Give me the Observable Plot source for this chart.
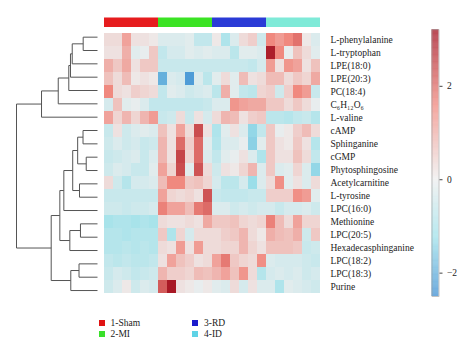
<!DOCTYPE html>
<html><head><meta charset="utf-8">
<script src="https://cdn.jsdelivr.net/npm/d3@7"></script>
<script src="https://cdn.jsdelivr.net/npm/@observablehq/plot@0.6"></script>
<style>
html,body{margin:0;padding:0;background:#fff;}
#chart{position:relative;width:474px;height:357px;font-family:"Liberation Serif","Times New Roman",serif;}
#chart svg{position:absolute;left:0;top:0;overflow:visible;}
.lg{position:absolute;font-size:9.5px;line-height:10px;color:#222;white-space:nowrap;}
.sw{position:absolute;width:6px;height:6px;}
</style></head><body><div id="chart"></div>
<script>
const rows = ["L-phenylalanine","L-tryptophan","LPE(18:0)","LPE(20:3)","PC(18:4)","C\u2086H\u2081\u2082O\u2086","L-valine","cAMP","Sphinganine","cGMP","Phytosphingosine","Acetylcarnitine","L-tyrosine","LPC(16:0)","Methionine","LPC(20:5)","Hexadecasphinganine","LPC(18:2)","LPC(18:3)","Purine"];
const groups = ["1-Sham","2-MI","3-RD","4-ID"];
const groupBarColors = ["#e61c1e","#3be324","#2a3bd6","#7fead8"];
const legendColors = ["#e01313","#3ae02a","#1b1bcc","#5fd3e6"];
const samplesPerGroup = 6;
const values = [
 [0.3,0.3,1.2,0.2,0.2,0.1, -0.3,-0.3,-0.3,-0.2,-0.7,-0.7, 0.1,-1.0,-0.3,0.3,0.5,-0.5, 1.6,1.3,1.6,1.9,0.1,-0.3],
 [0.2,0.2,1.0,-0.2,-0.1,0.6, -0.7,-0.4,-0.4,-0.2,-0.3,-0.2, -0.3,-0.3,-0.8,-0.2,-0.2,-0.3, 3.0,1.6,-0.1,0.7,0.3,-0.2],
 [1.0,0.6,1.1,0.2,0.6,0.6, -0.6,-0.6,-0.6,-0.6,-0.6,-0.6, -0.6,-0.6,-0.6,-0.6,-0.7,-0.4, 1.3,0.2,1.4,1.2,0.2,0.7],
 [0.7,0.3,0.8,0.1,0.2,0.1, -2.0,-0.3,-0.4,-2.3,-0.3,-0.8, -0.2,0.3,-0.2,0.8,0.2,0.3, 0.8,0.8,0.3,0.6,0.4,1.1],
 [1.6,0.3,0.2,0.5,0.4,0.3, -0.7,-0.2,-0.3,-0.5,-0.4,-0.3, -0.8,1.0,-0.2,-0.7,-0.8,0.4, 0.5,-0.5,0.5,1.6,1.3,-0.6],
 [-0.4,0.7,-0.2,-0.1,-0.3,-0.7, -0.7,-0.7,-0.7,-0.7,-0.7,-0.6, -0.3,-0.3,1.4,1.2,1.1,1.1, 0.6,0.6,0.3,0.6,0.3,-0.1],
 [1.2,0.4,0.9,0.4,0.9,1.3, -0.6,-0.5,0.3,-0.6,0.2,-0.4, 0.3,0.9,0.8,0.2,0.5,0.6, -0.8,-0.8,-0.9,-0.7,-0.6,-0.9],
 [-0.6,0.2,-0.5,-0.3,-0.2,-0.3, 0.7,0.2,1.2,0.3,2.4,0.2, -1.0,-0.2,0.2,-0.3,-1.4,-0.7, 0.6,-0.1,0.1,0.5,0.8,0.3],
 [-0.5,-0.3,-0.5,-0.4,-0.6,-0.5, 0.9,0.2,2.0,0.5,2.0,-0.2, -0.9,-0.3,-0.3,-0.1,-1.5,-0.2, 0.6,0.2,0.1,0.6,0.2,-0.9],
 [-0.6,-0.5,-0.4,-0.3,-0.6,-0.3, 0.9,0.2,2.5,0.4,2.0,-0.3, -0.7,-0.2,-0.1,0.2,-0.3,-1.0, 0.6,0.2,0.2,0.7,0.3,-0.7],
 [-0.5,-0.3,-0.4,-0.6,-0.6,-0.2, 1.2,0.4,2.4,-0.2,2.3,0.3, -0.5,0.2,0.1,0.4,0.9,-0.3, 0.6,-0.3,-0.2,0.4,-0.3,-1.4],
 [0.3,-0.5,-0.9,-0.4,-0.4,-0.3, 0.8,1.6,1.6,0.6,0.7,0.4, -0.4,-0.8,-0.8,-0.4,-1.3,-0.3, 0.3,1.5,-0.2,0.2,-0.3,0.3],
 [-0.6,-0.6,-0.6,-0.6,-0.6,-0.6, 1.2,0.4,0.3,0.4,0.2,2.3, -0.6,-0.7,-0.7,-0.7,-0.6,-0.6, 0.5,0.5,0.5,1.5,1.3,-0.2],
 [-0.5,-0.5,-0.6,-0.5,-0.5,-0.4, 1.7,1.2,1.2,0.8,1.8,2.0, -0.3,-0.3,-0.5,-0.4,-0.5,-0.4, -0.4,-0.6,-0.4,-0.4,-0.3,-0.5],
 [-1.1,-1.0,-1.0,-1.1,-1.0,-1.1, 0.3,0.2,0.2,0.3,0.2,1.1, 0.6,0.6,0.7,0.4,0.3,0.4, 1.7,0.8,0.3,1.2,0.4,0.4],
 [-0.9,-0.9,-1.0,-0.9,-0.9,-0.9, 0.6,-1.0,0.4,-0.4,0.3,0.3, 0.3,0.5,0.6,0.9,0.3,0.1, 1.0,0.8,0.7,1.0,-0.5,0.6],
 [-0.9,-0.9,-0.8,-0.9,-0.8,-0.9, 0.3,0.2,1.3,0.2,1.3,0.3, 0.3,0.4,0.4,0.9,0.4,0.2, 0.7,0.7,0.7,0.6,-0.6,-0.5],
 [-0.7,-0.8,-0.7,-0.8,-0.8,-0.7, 0.2,1.2,0.7,0.5,0.2,0.3, 1.2,1.8,0.6,0.4,0.3,1.5, -0.3,-0.4,-0.4,-0.4,-0.5,-0.6],
 [-0.6,-0.4,-0.5,-0.7,-0.6,-0.5, 0.9,0.5,0.5,0.4,0.8,0.7, 0.9,1.2,0.7,1.4,0.3,-0.9, -0.4,-0.3,-0.4,-0.3,-0.5,-0.4],
 [-0.5,-0.3,0.1,-0.5,-0.3,-0.4, 2.2,3.1,0.2,0.1,-0.1,0.1, -0.2,-0.3,0.3,-0.4,0.2,-0.3, -0.3,-1.0,-0.2,-0.3,-0.4,-0.5]
];
// hclust-style merges: negative = leaf (row index, 1-based), positive = earlier merge step
const mergeLeft   = [-1, 1, 2, 3, 4, 5, -8, -10, 7, -12, 9, 11, -15, 13, 12, -18, 16, 15, 6];
const mergeRight  = [-2, -3, -4, -5, -6, -7, -9, -11, 8, -13, 10, -14, -16, -17, 14, -19, -20, 17, 18];
const mergeHeight = [1.79, 3.16, 3.38, 3.59, 4.91, 7.0, 1.81, 1.41, 2.48, 2.25, 3.1, 4.21, 2.13, 3.46, 4.71, 2.31, 3.34, 5.79, 10.13];
const colorTicks = [-2, 0, 2];
const colorDomain = [-2.5, -1.25, 0, 1.6, 3.2];
const colorRange = ["#3e8fd3", "#9fe1ea", "#eeeeee", "#f0897f", "#a3101f"];

const font = '"Liberation Serif","Times New Roman",serif';
const W = 474, H = 357;
const heatL = 98.5, heatR = 325, heatT = 30, heatB = 296.7;
const cols = d3.range(1, groups.length * samplesPerGroup + 1);
const cells = [];
values.forEach((r, i) => r.forEach((v, j) => cells.push({row: rows[i], col: j + 1, value: v})));
const colData = cols.map(c => ({col: c, group: groups[Math.floor((c - 1) / samplesPerGroup)]}));
const colorOpts = {type: "linear", domain: colorDomain, range: colorRange, clamp: true};
const style = {fontFamily: font, fontSize: "9.5px", background: "transparent", color: "#222", overflow: "visible"};
const chart = document.getElementById("chart");

// heatmap
chart.append(Plot.plot({
  width: W, height: H, marginLeft: heatL, marginRight: W - heatR, marginTop: heatT, marginBottom: H - heatB,
  style,
  x: {type: "band", domain: cols, padding: 0, axis: null},
  y: {type: "band", domain: rows, padding: 0},
  color: colorOpts,
  marks: [
    Plot.cell(cells, {x: "col", y: "row", fill: "value"}),
    Plot.axisY({anchor: "right", tickSize: 0, tickPadding: 5, fill: "#222", label: null})
  ]
}));

// group annotation bar
chart.append(Plot.plot({
  width: W, height: H, marginLeft: heatL, marginRight: W - heatR, marginTop: 17.5, marginBottom: H - 27,
  style,
  x: {type: "band", domain: cols, padding: 0, axis: null},
  color: {type: "ordinal", domain: groups, range: groupBarColors},
  marks: [Plot.cell(colData, {x: "col", fill: "group"})]
}));

// dendrogram
const nodeY = [];
const links = [];
function pos(id) { return id < 0 ? {y: -id, h: 0} : {y: nodeY[id - 1], h: mergeHeight[id - 1]}; }
mergeLeft.forEach((l, i) => {
  const a = pos(l), b = pos(mergeRight[i]), h = mergeHeight[i];
  nodeY[i] = (a.y + b.y) / 2;
  links.push({x1: h, y1: a.y, x2: h, y2: b.y});
  links.push({x1: a.h, y1: a.y, x2: h, y2: a.y});
  links.push({x1: b.h, y1: b.y, x2: h, y2: b.y});
});
chart.append(Plot.plot({
  width: W, height: H, marginLeft: 16, marginRight: W - 97, marginTop: heatT, marginBottom: H - heatB,
  style,
  x: {type: "linear", domain: [d3.max(mergeHeight), 0], axis: null},
  y: {type: "linear", domain: [0.5, rows.length + 0.5], reverse: true, axis: null},
  marks: [Plot.link(links, {x1: "x1", y1: "y1", x2: "x2", y2: "y2", stroke: "#555", strokeWidth: 1})]
}));

// colour bar
const ramp = d3.range(colorDomain[0], 3.21, 0.01);
chart.append(Plot.plot({
  width: W, height: H, marginLeft: 431.5, marginRight: W - 438.5, marginTop: 29.3, marginBottom: H - 296,
  style,
  y: {type: "linear", domain: [colorDomain[0], 3.21], axis: null},
  color: colorOpts,
  marks: [
    Plot.rect(ramp, {y1: d => d, y2: d => d + 0.0105, fill: d => d}),
    Plot.frame({stroke: "#999", strokeWidth: 0.6}),
    Plot.axisY({anchor: "right", ticks: colorTicks, tickSize: 3, tickPadding: 5, stroke: "#444", fill: "#222", label: null,
      tickFormat: d => d < 0 ? "\u2212" + Math.abs(d) : String(d)})
  ]
}));

// legend
const legendPos = [[98.5, 320], [98.5, 331], [192, 320], [192, 331]];
groups.forEach((g, i) => {
  const [x, y] = legendPos[i];
  const s = document.createElement("div");
  s.className = "sw"; s.style.left = x + "px"; s.style.top = y + "px"; s.style.background = legendColors[i];
  chart.append(s);
  const t = document.createElement("div");
  t.className = "lg"; t.style.left = (x + 12) + "px"; t.style.top = (y - 2) + "px"; t.textContent = g;
  chart.append(t);
});
</script></body></html>
